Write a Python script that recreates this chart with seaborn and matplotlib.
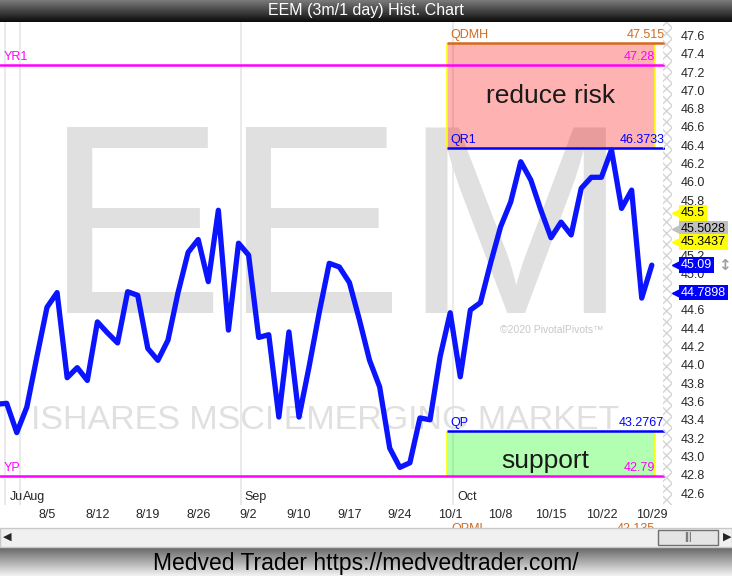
import numpy as np
import pandas as pd
import matplotlib
matplotlib.use("Agg")
import matplotlib.pyplot as plt
import seaborn as sns
from matplotlib.colors import LinearSegmentedColormap
from matplotlib.patches import Rectangle
from matplotlib.transforms import blended_transform_factory

# daily closes, EEM, 7/29 .. 10/29 (one value per trading day)
closes = [43.57, 43.58, 43.26, 43.54, 44.09, 44.63, 44.79, 43.86, 43.97, 43.83,
          44.47, 44.35, 44.24, 44.80, 44.76, 44.18, 44.05, 44.27, 44.79, 45.23,
          45.37, 44.91, 45.69, 44.38, 45.33, 45.20, 44.30, 44.33, 43.43, 44.36,
          43.43, 43.98, 44.57, 45.11, 45.07, 44.90, 44.49, 44.05, 43.76, 43.09,
          42.88, 42.93, 43.42, 43.40, 44.09, 44.57, 43.87, 44.60, 44.68, 45.11,
          45.51, 45.78, 46.22, 46.02, 45.69, 45.39, 45.56, 45.42, 45.93, 46.05,
          46.05, 46.35, 45.71, 45.91, 44.73, 45.09]
date_ticks = [5, 10, 15, 20, 25, 30, 35, 40, 45, 50, 55, 60, 65]
date_labels = ["8/5", "8/12", "8/19", "8/26", "9/2", "9/10", "9/17", "9/24",
               "10/1", "10/8", "10/15", "10/22", "10/29"]
month_pos = [1.3, 2.6, 24.6, 45.7]
month_names = ["Ju", "Aug", "Sep", "Oct"]
month_lines = [0.8, 2.3, 24.2, 45.3]

# pivot levels
quarter_levels = {"QDMH": 47.515, "QR1": 46.3733, "QP": 43.2767}
year_levels = {"YR1": 47.28, "YP": 42.79}
q_colors = {"QDMH": "#d2691e", "QR1": "#0000ff", "QP": "#0000ff"}
box_start, box_end = 44.68, 65.32

tag_vals = [45.66, 45.485, 45.34, 45.09, 44.79]
tag_text = ["45.5", "45.5028", "45.3437", "45.09", "44.7898"]
tag_fc = ["#ffff00", "#c0c0c0", "#ffff00", "#0000ff", "#0000ff"]
tag_tc = ["black", "black", "black", "white", "white"]

sns.set_style("white")
plt.rcParams["font.family"] = ["Liberation Sans", "DejaVu Sans"]

W, H = 732, 576
fx = lambda px: px / W
fy = lambda py: 1 - py / H

fig = plt.figure(figsize=(7.32, 5.76), dpi=100)
fig.patch.set_facecolor("white")
ax = fig.add_axes([0, fy(505), fx(665), (505 - 22) / H])

df = pd.DataFrame({"day": np.arange(len(closes)), "close": closes})
sns.lineplot(data=df, x="day", y="close", color="#0a14ff", lw=3.8, ax=ax, zorder=5)

ax.set_xlim(0.337, 66.31)
ax.set_ylim(42.469, 47.747)
for s in ax.spines.values():
    s.set_visible(False)

for m in month_lines:
    ax.axvline(m, color="#e6e6e6", lw=1.2, zorder=0)
for p, n in zip(month_pos, month_names):
    ax.text(p, 42.556, n, fontsize=9, va="center", ha="left", zorder=2)

# watermark
ax.text(fx(337), fy(313), "EEM", transform=fig.transFigure, fontsize=194,
        color="#e0e0e0", ha="center", va="baseline", zorder=0)
ax.text(fx(325), fy(429), "ISHARES MSCI EMERGING MARKET", transform=fig.transFigure,
        fontsize=24.5, color="#e0e0e0", ha="center", va="baseline", zorder=0)
ax.text(fx(500), fy(333), "\u00a92020 PivotalPivots\u2122", transform=fig.transFigure,
        fontsize=7.5, color="#c8c8c8", ha="left", va="baseline", zorder=0)

# zones
ax.fill_between([box_start, box_end], quarter_levels["QR1"], quarter_levels["QDMH"],
                color="red", alpha=0.3, lw=0, zorder=1)
ax.fill_between([box_start, box_end], year_levels["YP"], quarter_levels["QP"],
                color="lime", alpha=0.3, lw=0, zorder=1)
ax.vlines([box_start, box_end], quarter_levels["QR1"], quarter_levels["QDMH"],
          color="yellow", lw=1.2, zorder=2)
ax.vlines([box_start, box_end], year_levels["YP"], quarter_levels["QP"],
          color="yellow", lw=1.2, zorder=2)
ax.text((box_start + box_end) / 2, 46.94, "reduce risk", fontsize=19,
        ha="center", va="center", color="#1a1a1a", zorder=3)
ax.text((box_start + box_end) / 2 - 0.6, 42.95, "support", fontsize=19,
        ha="center", va="center", color="#1a1a1a", zorder=3)

tr = blended_transform_factory(ax.transAxes, ax.transData)
for name, v in quarter_levels.items():
    c = q_colors[name]
    ax.hlines(v, box_start, 66.31, color=c, lw=1.8, zorder=4)
    ax.text(box_start + 0.3, v + 0.02, name, color=c, fontsize=9, va="bottom", zorder=4)
    ax.text(0.999, v + 0.02, f"{v:g}", color=c, fontsize=9, va="bottom", ha="right",
            transform=tr, zorder=4, clip_on=False)
for name, v in year_levels.items():
    ax.axhline(v, color="#ff00ff", lw=1.8, zorder=4)
    ax.text(0.005, v + 0.02, name, color="#ff00ff", fontsize=9, va="bottom",
            transform=tr, zorder=4)
    ax.text(0.985, v + 0.02, f"{v:g}", color="#ff00ff", fontsize=9, va="bottom",
            ha="right", transform=tr, zorder=4)

# axes ticks
ax.yaxis.tick_right()
ax.set_yticks(np.round(np.arange(42.6, 47.61, 0.2), 1))
ax.set_yticklabels([f"{t:.1f}" for t in np.arange(42.6, 47.61, 0.2)])
ax.tick_params(axis="y", length=0, pad=11, labelsize=9)
ax.set_xticks(date_ticks)
ax.set_xticklabels(date_labels)
ax.tick_params(axis="x", length=0, pad=3, labelsize=9)
ax.set_xlabel("")
ax.set_ylabel("")

# hatched strip right of plot
fig.add_artist(Rectangle((fx(663), fy(505)), fx(9), (505 - 22) / H, transform=fig.transFigure,
                         fc="none", ec="#d4d4d4", hatch="xxx", lw=0))

# price tags
for v, t, fc, tc in zip(tag_vals, tag_text, tag_fc, tag_tc):
    ax.plot([1.0175], [v], marker="<", ms=7, color=fc, transform=tr, clip_on=False, zorder=6)
    ax.text(1.024, v, t, transform=tr, fontsize=9, color=tc, va="center", ha="left",
            clip_on=False, zorder=7,
            bbox=dict(boxstyle="square,pad=0.15", fc=fc, ec="none"))
ax.text(1.08, 45.09, "\u2195", transform=tr, fontsize=11, color="#a0a0a0", fontweight="bold",
        va="center", ha="left", family="DejaVu Sans", clip_on=False, zorder=7)

# partly hidden QPML level under the scrollbar
fig.text(fx(451), fy(523), "QPML", color="#d2691e", fontsize=9, va="top", zorder=2)
fig.text(fx(655), fy(523), "42.135", color="#d2691e", fontsize=9, va="top", ha="right", zorder=2)

# scrollbar
fig.add_artist(Rectangle((0, fy(547)), 1, 19 / H, transform=fig.transFigure,
                         fc="#f0f0f0", ec="#c8c8c8", lw=1, zorder=5))
fig.add_artist(Rectangle((fx(658), fy(545)), fx(60), 15 / H, transform=fig.transFigure,
                         fc="#e4e4e4", ec="#707070", lw=1, zorder=6))
fig.text(fx(688), fy(537), "|||", fontsize=7, ha="center", va="center", color="#404040", zorder=7)
fig.text(fx(7), fy(537), "\u25c0", fontsize=8, ha="center", va="center", family="DejaVu Sans", zorder=7)
fig.text(fx(727), fy(537), "\u25b6", fontsize=8, ha="center", va="center", family="DejaVu Sans", zorder=7)

# title and footer bars
top_cmap = LinearSegmentedColormap.from_list("top", ["#7a7a7a", "#0c0c0c"])
bax = fig.add_axes([0, fy(22), 1, 22 / H])
bax.imshow(np.linspace(0, 1, 50).reshape(-1, 1), aspect="auto", cmap=top_cmap, extent=(0, 1, 0, 1))
bax.axis("off")
bax.text(0.5, 0.5, "EEM (3m/1 day) Hist. Chart", color="white", fontsize=11.5,
         ha="center", va="center", family=["Liberation Sans Narrow", "Liberation Sans"])

bot_cmap = LinearSegmentedColormap.from_list("bot", ["#6a6a6a", "#f2f2f2"])
fax = fig.add_axes([0, 0, 1, 28 / H])
fax.imshow(np.linspace(0, 1, 50).reshape(-1, 1), aspect="auto", cmap=bot_cmap, extent=(0, 1, 0, 1))
fax.axis("off")
fax.text(0.5, 0.45, "Medved Trader https://medvedtrader.com/", color="black", fontsize=16.5,
         ha="center", va="center")

fig.savefig("out.png", dpi=100)
